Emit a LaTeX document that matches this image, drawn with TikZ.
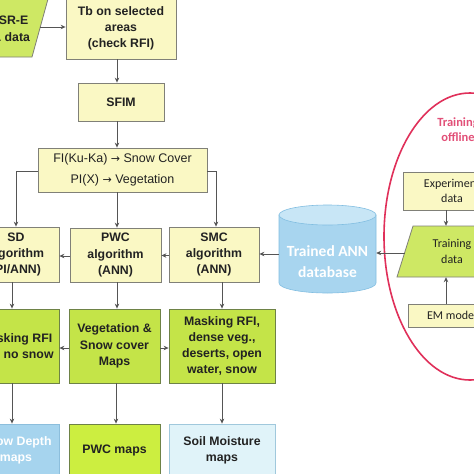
\documentclass[tikz,border=0pt]{standalone}
\usepackage{fontspec}
\setmainfont{Liberation Sans}
\newfontfamily\calib{Carlito}
\newfontfamily\djv{DejaVu Sans}
\usetikzlibrary{arrows.meta}
\definecolor{ybox}{RGB}{250,248,196}
\definecolor{ybord}{RGB}{128,128,120}
\definecolor{gbox}{RGB}{196,228,72}
\definecolor{gbox2}{RGB}{204,238,64}
\definecolor{gpara}{RGB}{206,232,100}
\definecolor{gbord}{RGB}{110,130,70}
\definecolor{bbox}{RGB}{166,212,238}
\definecolor{bbord}{RGB}{140,190,220}
\definecolor{cbox}{RGB}{224,243,249}
\definecolor{cbord}{RGB}{160,200,220}
\definecolor{annbody}{RGB}{168,213,239}
\definecolor{anntop}{RGB}{200,230,246}
\definecolor{annbord}{RGB}{130,190,225}
\definecolor{redl}{RGB}{224,48,90}
\definecolor{redt}{RGB}{226,80,120}
\definecolor{txt}{RGB}{34,34,34}
\definecolor{lgray}{RGB}{85,85,85}
\begin{document}
\begin{tikzpicture}[x=1pt,y=-1pt,
  base/.style={inner sep=0pt, align=center, text=txt, font=\fontsize{12.3}{16.3}\selectfont\bfseries},
  ybx/.style={base, draw=ybord, line width=0.8pt, fill=ybox},
  gbx/.style={base, draw=gbord, line width=0.8pt, fill=gbox},
  gbxb/.style={base, draw=gbord, line width=0.8pt, fill=gbox2},
  bbx/.style={base, draw=bbord, line width=0.8pt, fill=bbox, text=white},
  cbx/.style={base, draw=cbord, line width=0.8pt, fill=cbox},
  cal/.style={font=\calib\fontsize{12}{15.5}\selectfont},
  arr/.style={draw=lgray, line width=0.8pt, -{Stealth[length=5pt,width=4.5pt]}},
  para/.style={fill=gpara, draw=ybord, line width=0.8pt}
]
\useasboundingbox (0,0) rectangle (474,474);
\clip (0,0) rectangle (474,474);
\fill[white] (0,0) rectangle (474,474);

% input parallelogram
\path[para] (-24,-1) -- (48,-1) -- (32,57) -- (-40,57) -- cycle;
\node[base, minimum width=72, minimum height=57, font=\fontsize{12.3}{17}\selectfont\bfseries] (amsr) at (4,28.5) {AMSR-E\\L2A data};

\node[ybx, minimum width=110, minimum height=61] (tb) at (121,28.5) {Tb on selected\\areas\\(check RFI)};
\node[ybx, minimum width=86, minimum height=38] (sfim) at (121,102) {SFIM};
\node[ybx, minimum width=169, minimum height=44, font=\fontsize{12.5}{21}\selectfont] (fi) at (122.5,170) {FI(Ku-Ka) {\djv\fontsize{11}{21}\selectfont →} Snow Cover\\PI(X) {\djv\fontsize{11}{21}\selectfont →} Vegetation};

\node[ybx, minimum width=86, minimum height=55] (sd) at (16,254.5) {SD\\algorithm\\(PI/ANN)};
\node[ybx, minimum width=91, minimum height=54] (pwc) at (115.5,255) {PWC\\algorithm\\(ANN)};
\node[ybx, minimum width=90, minimum height=55] (smc) at (214,254.5) {SMC\\algorithm\\(ANN)};

\node[gbx, minimum width=86, minimum height=74] (sdm) at (16,346) {Masking RFI\\and no snow};
\node[gbx, minimum width=91, minimum height=74] (veg) at (114.5,346) {Vegetation \&\\Snow cover\\Maps};
\node[gbx, minimum width=106, minimum height=74, font=\fontsize{12.3}{15.7}\selectfont\bfseries] (smcm) at (222,346) {Masking RFI,\\dense veg.,\\deserts, open\\water, snow};

\node[bbx, minimum width=86, minimum height=52] (sdmap) at (16,450) {Snow Depth\\maps};
\node[gbxb, minimum width=91, minimum height=52] (pwcmap) at (114.5,450) {PWC maps};
\node[cbx, minimum width=106, minimum height=52] (soil) at (222,450) {Soil Moisture\\maps};

% database cylinder
\filldraw[fill=annbody, draw=annbord, line width=0.6pt] (279,215) -- (279,283) arc[start angle=180, end angle=360, x radius=48.5pt, y radius=10pt] -- (376,215) -- cycle;
\filldraw[fill=anntop, draw=annbord, line width=0.6pt] (327.5,215) ellipse[x radius=48.5pt, y radius=10pt];
\node[base, minimum width=97, minimum height=60, text=white, font=\calib\bfseries\fontsize{15.5}{21}\selectfont] (ann) at (327.5,262) {Trained ANN\\database};

% training area
\draw[redl, line width=1.6pt] (470,236.5) ellipse[x radius=86pt, y radius=143.5pt];
\node[base, text=redt, font=\calib\bfseries\fontsize{12.5}{15}\selectfont] (toff) at (458,129.5) {Training\\offline};
\node[ybx, cal, minimum width=98, minimum height=38] (exp) at (452,191) {Experiment\\data};
\path[para] (413,226) -- (507,226) -- (491,277) -- (397,277) -- cycle;
\node[base, cal, minimum width=94, minimum height=51] (train) at (452,251.5) {Training\\data};
\node[ybx, cal, minimum width=88, minimum height=23] (em) at (452,315.5) {EM model};

% connectors
\draw[arr] ([yshift=1.5]amsr.east) -- ([yshift=1.5]tb.west);
\draw[arr] ([xshift=-4]tb.south) -- ([xshift=-4]sfim.north);
\draw[arr] ([xshift=-4]sfim.south) -- ([xshift=-5.5]fi.north);
\draw[arr] ([xshift=-5.5]fi.south) -- ([xshift=1.5]pwc.north);
\draw[arr] ([yshift=-1]fi.west) -| (sd.north);
\draw[arr] ([yshift=-1]fi.east) -| ([xshift=2]smc.north);
\draw[arr] ([yshift=-1]pwc.west) -- ([yshift=-1]pwc.west -| sd.east);
\draw[arr] ([yshift=-1]smc.west) -- ([yshift=-1]smc.west -| pwc.east);
\draw[arr] ([yshift=8]ann.west) -- ([yshift=8]ann.west -| smc.east);
\draw[arr] ([yshift=-1.5]train.west) -- ([yshift=-1.5]train.west -| ann.east);
\draw[arr] ([xshift=-4]sd.south) -- ([xshift=-4]sdm.north);
\draw[arr] ([xshift=1.5]pwc.south) -- ([xshift=2.5]veg.north);
\draw[arr] ([xshift=8]smc.south) -- (smcm.north);
\draw[arr] ([yshift=-2]veg.west) -- ([yshift=-2]veg.west -| sdm.east);
\draw[arr] ([yshift=-2]veg.east) -- ([yshift=-2]veg.east -| smcm.west);
\draw[arr] ([xshift=-4]sdm.south) -- ([xshift=-4]sdmap.north);
\draw[arr] ([xshift=1.5]veg.south) -- ([xshift=1.5]pwcmap.north);
\draw[arr] (smcm.south) -- (soil.north);
\draw[arr] ([xshift=-6]exp.south) -- ([xshift=-6]train.north);
\draw[arr] ([xshift=-6]em.north) -- ([xshift=-6]train.south);
\end{tikzpicture}
\end{document}
